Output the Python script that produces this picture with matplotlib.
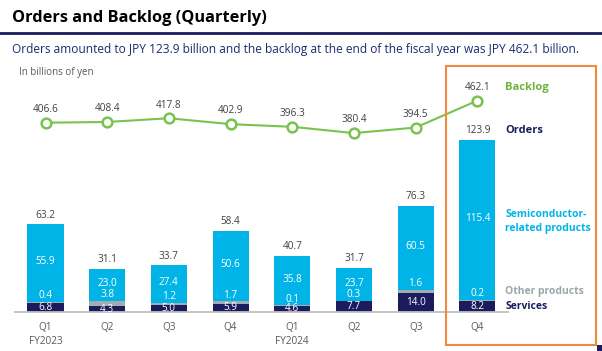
import matplotlib
matplotlib.use("Agg")
import matplotlib.pyplot as plt
from matplotlib.patches import Rectangle
import numpy as np

plt.rcParams['font.family'] = ['Open Sans', 'DejaVu Sans']

quarters = ["Q1\nFY2023", "Q2", "Q3", "Q4", "Q1\nFY2024", "Q2", "Q3", "Q4"]
services = [6.8, 4.3, 5.0, 5.9, 4.6, 7.7, 14.0, 8.2]
other = [0.4, 3.8, 1.2, 1.7, 0.1, 0.3, 1.6, 0.2]
semi = [55.9, 23.0, 27.4, 50.6, 35.8, 23.7, 60.5, 115.4]
orders = [63.2, 31.1, 33.7, 58.4, 40.7, 31.7, 76.3, 123.9]
backlog = [406.6, 408.4, 417.8, 402.9, 396.3, 380.4, 394.5, 462.1]

C_SEMI = "#00b4e8"
C_SERV = "#1b1c5e"
C_OTHER = "#a3adb1"
C_LINE = "#78c350"
C_TXT = "#404040"
C_BACKTXT = "#6cb33f"
C_OTHERTXT = "#9aa7aa"
C_ORANGE = "#f08a3c"

W, H = 602, 351
fig = plt.figure(figsize=(W / 100, H / 100), dpi=100)

# main axes covering whole figure
ax = fig.add_axes([0, 0, 1, 1])
step = 61.7
x0px = 45.5
ax.set_xlim(-x0px / step, (W - x0px) / step)
base_px = 39.0
sc = 1.39
ax.set_ylim(-base_px / sc, (H - base_px) / sc)
ax.axis("off")

x = np.arange(len(quarters))
bw = 0.585
services_a = np.array(services)
other_a = np.array(other)
semi_a = np.array(semi)

ax.bar(x, services_a, bw, color=C_SERV, zorder=2)
ax.bar(x, other_a, bw, bottom=services_a, color=C_OTHER, zorder=2)
ax.bar(x, semi_a, bw, bottom=services_a + other_a, color=C_SEMI, zorder=2)

ax.axhline(0, xmin=15 / W, xmax=508 / W, color="#bfbfbf", lw=1.3, zorder=3)

fs = 7.2
for i in range(len(x)):
    ax.annotate(f"{services[i]:.1f}", (x[i], services[i] / 2), ha="center", va="center",
                color="white", fontsize=fs, zorder=4)
    ax.annotate(f"{other[i]:.1f}", (x[i], services[i] + other[i]), xytext=(0, 4.6),
                textcoords="offset points", ha="center", va="center",
                color="white", fontsize=fs, zorder=4)
    ax.annotate(f"{semi[i]:.1f}", (x[i], services[i] + other[i] + semi[i] / 2),
                xytext=(0, 1.0), textcoords="offset points",
                ha="center", va="center", color="white", fontsize=fs, zorder=4)
    ax.annotate(f"{orders[i]:.1f}", (x[i], orders[i]), xytext=(0, 6.5),
                textcoords="offset points", ha="center", va="center",
                color=C_TXT, fontsize=fs, zorder=4)
    ax.annotate(quarters[i], (x[i], 0), xytext=(0, -7.5), textcoords="offset points",
                ha="center", va="top", color="#595959", fontsize=fs,
                linespacing=1.3)

# backlog axes
ax2 = fig.add_axes([0, 0, 1, 1], sharex=ax)
ax2.patch.set_alpha(0)
bsc = 0.398
bref = 406.6
bpx = 228.3
ax2.set_ylim(bref - bpx / bsc, bref + (H - bpx) / bsc)
ax2.axis("off")
ax2.plot(x, backlog, color=C_LINE, lw=1.5, marker="o", ms=7, mfc="white",
         mec=C_LINE, mew=1.8, zorder=5)
for i in range(len(x)):
    ax2.annotate(f"{backlog[i]:.1f}", (x[i], backlog[i]), xytext=(0, 9.5),
                 textcoords="offset points", ha="center", va="center",
                 color=C_TXT, fontsize=fs)

# right-side series labels
last = len(x) - 1
lfs = 7.5
ax2.annotate("Backlog", (x[last], backlog[last]), xytext=(20, 9.5), textcoords="offset points",
             ha="left", va="center", color=C_BACKTXT, fontsize=lfs + 0.5, fontweight="bold")
ax.annotate("Orders", (x[last], orders[last]), xytext=(20, 6.5), textcoords="offset points",
            ha="left", va="center", color=C_SERV, fontsize=lfs + 0.5, fontweight="bold")
ax.annotate("Semiconductor-\nrelated products",
            (x[last], services[last] + other[last] + semi[last] / 2), xytext=(20, -1.0),
            textcoords="offset points", ha="left", va="center", color=C_SEMI,
            fontsize=lfs, fontweight="bold", linespacing=1.3)
ax.annotate("Other products", (x[last], services[last] + other[last]), xytext=(20, 6.0),
            textcoords="offset points", ha="left", va="center", color=C_OTHERTXT,
            fontsize=lfs, fontweight="bold")
ax.annotate("Services", (x[last], services[last] / 2), xytext=(20, -0.5),
            textcoords="offset points", ha="left", va="center", color=C_SERV,
            fontsize=lfs, fontweight="bold")

# header
fig.text(12 / W, 1 - 18 / H, "Orders and Backlog (Quarterly)", fontsize=11.8,
         fontweight="bold", color="black", ha="left", va="center")
fig.add_artist(plt.Line2D([0, 1], [1 - 33 / H, 1 - 33 / H], color=C_SERV, lw=2.0,
                          transform=fig.transFigure))
fig.text(12 / W, 1 - 50 / H,
         "Orders amounted to JPY 123.9 billion and the backlog at the end of the fiscal year was JPY 462.1 billion.",
         fontsize=8.55, color="#1f2a6e", ha="left", va="center")
fig.text(19 / W, 1 - 73 / H, "In billions of yen", fontsize=7.0, color="#595959",
         ha="left", va="center")

# highlight box
fig.add_artist(Rectangle((446 / W, 1 - 345 / H), 150 / W, 279 / H, fill=False,
                         ec=C_ORANGE, lw=1.5, transform=fig.transFigure))
fig.add_artist(Rectangle((597 / W, 0), 5 / W, 6 / H, fc=C_SERV, ec="none",
                         transform=fig.transFigure))

fig.savefig("out.png", dpi=100, facecolor="white")
